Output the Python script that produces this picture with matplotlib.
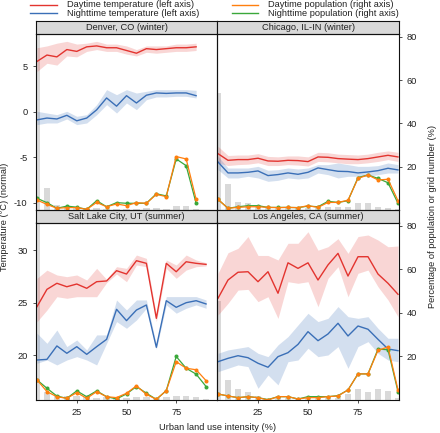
import numpy as np
import matplotlib
matplotlib.use('Agg')
import matplotlib.pyplot as plt
from matplotlib.lines import Line2D

plt.rcParams['font.family'] = ['Liberation Sans', 'DejaVu Sans']
plt.rcParams['axes.unicode_minus'] = False

# ---------------- data ----------------
intensity = [5, 10, 15, 20, 25, 30, 35, 40, 45, 50, 55, 60, 65, 70, 75, 80, 85, 90, 95]

# Denver, CO (winter) : 5..85
den_day = [5.5, 6.2, 6.0, 6.8, 6.6, 7.1, 7.2, 7.0, 7.0, 6.7, 6.4, 6.9, 6.8, 6.9, 7.0, 7.0, 7.1]
den_day_lo = [4.4, 5.3, 5.1, 6.1, 6.0, 6.6, 6.8, 6.6, 6.6, 6.3, 6.1, 6.5, 6.4, 6.5, 6.6, 6.6, 6.7]
den_day_hi = [7.0, 7.2, 7.5, 7.7, 7.4, 7.5, 7.7, 7.4, 7.4, 7.2, 6.8, 7.2, 7.2, 7.2, 7.4, 7.4, 7.5]
den_night = [-0.9, -0.7, -0.8, -0.4, -1.0, -0.7, 0.2, 1.5, 0.6, 1.75, 0.95, 1.8, 2.05, 2.0, 2.05, 2.05, 1.75]
den_night_lo = [-1.42, -1.24, -1.24, -0.8, -1.42, -1.24, -0.33, 0.77, -0.15, 0.95, 0.22, 1.31, 1.61, 1.61, 1.68, 1.68, 1.5]
den_night_hi = [0.04, -0.15, -0.33, 0.04, -0.51, -0.33, 0.77, 2.41, 1.86, 2.41, 2.04, 2.23, 2.41, 2.41, 2.41, 2.41, 2.34]
den_pop_day = [4.6, 2.6, 0.8, 1.1, 1.1, 0.3, 3.5, 1.5, 2.8, 2.0, 3.4, 3.1, 7.2, 6.2, 24.7, 23.6, 5.0]
den_pop_night = [5.4, 3.4, 0.8, 1.8, 1.3, 0.3, 4.3, 1.5, 3.4, 3.1, 3.1, 3.1, 7.5, 6.5, 23.6, 20.5, 3.1]
den_grid = [88, 10.3, 2.3, 1.5, 1.2, 0.5, 0.9, 0.5, 0.5, 0.4, 0.5, 0.8, 0.8, 0.6, 1.8, 2.0, 0.3]

# Chicago, IL-IN (winter) : 5..95
chi_day = [-4.6, -5.33, -5.25, -5.25, -5.1, -5.4, -5.43, -5.33, -5.36, -5.47, -4.96, -5.0, -5.14, -5.2, -5.25, -5.14, -4.96, -4.78, -4.96]
chi_day_lo = [-5.6, -5.9, -5.8, -5.75, -5.6, -5.9, -5.9, -5.8, -5.85, -5.95, -5.45, -5.5, -5.6, -5.7, -5.7, -5.6, -5.45, -5.25, -5.45]
chi_day_hi = [-3.8, -4.8, -4.75, -4.75, -4.6, -4.9, -4.95, -4.85, -4.85, -4.95, -4.45, -4.5, -4.65, -4.7, -4.75, -4.65, -4.45, -4.3, -4.45]
chi_night = [-5.51, -6.71, -6.71, -6.64, -6.49, -7.0, -6.89, -6.71, -6.86, -6.64, -6.16, -6.35, -6.53, -6.56, -6.71, -6.6, -6.46, -6.2, -6.38]
chi_night_lo = [-6.35, -7.26, -7.26, -7.08, -7.26, -7.63, -7.52, -7.26, -7.37, -7.26, -6.72, -6.9, -7.26, -7.08, -7.08, -7.08, -6.9, -6.72, -6.72]
chi_night_hi = [-4.89, -6.17, -6.17, -6.17, -5.99, -6.42, -6.35, -6.17, -6.28, -6.17, -5.8, -5.8, -5.62, -5.8, -5.99, -5.99, -5.91, -5.62, -5.8]
chi_pop_day = [4.9, 0.8, 1.2, 1.5, 1.5, 1.2, 1.1, 1.2, 1.1, 2.0, 1.2, 3.5, 3.5, 4.5, 14.6, 16.2, 13.9, 14.2, 4.3]
chi_pop_night = [4.9, 0.8, 1.5, 2.0, 2.0, 1.2, 1.2, 1.2, 1.1, 1.8, 1.5, 4.0, 3.5, 4.3, 15.0, 16.2, 14.6, 12.6, 3.1]
chi_grid = [54, 11.9, 3.9, 3.1, 2.3, 1.5, 1.2, 1.2, 0.8, 0.8, 1.1, 1.2, 1.2, 1.5, 3.4, 3.1, 1.5, 0.8, 0.3]

# Salt Lake City, UT (summer) : 5..90
slc_day = [24.62, 26.27, 26.85, 26.52, 26.78, 26.37, 27.0, 27.07, 28.05, 27.73, 29.0, 28.75, 23.51, 28.75, 27.95, 28.9, 28.75, 28.65]
slc_day_lo = [23.19, 24.3, 25.57, 25.42, 25.57, 25.57, 25.57, 26.91, 27.73, 27.0, 28.59, 28.43, 23.19, 28.27, 27.32, 28.11, 28.43, 28.5]
slc_day_hi = [27.32, 28.1, 27.64, 27.48, 27.64, 27.16, 28.27, 27.22, 28.43, 28.27, 29.54, 29.22, 23.83, 29.07, 28.59, 29.54, 29.07, 28.81]
slc_night = [19.54, 19.6, 20.88, 20.18, 20.81, 20.08, 20.81, 21.51, 24.37, 23.29, 24.3, 24.78, 20.75, 25.19, 24.56, 25.0, 25.19, 24.88]
slc_night_lo = [19.23, 19.54, 19.07, 19.54, 19.86, 19.54, 19.07, 21.13, 23.2, 22.56, 23.35, 24.47, 20.57, 24.79, 24.0, 24.47, 24.79, 24.47]
slc_night_hi = [22.09, 21.13, 22.4, 20.82, 21.45, 20.5, 21.93, 21.93, 25.26, 24.31, 25.26, 25.26, 20.98, 25.58, 25.58, 25.58, 25.58, 25.26]
slc_pop_day = [9.25, 3.85, 1.5, 0.77, 3.4, 0.77, 3.85, 1.5, 1.1, 3.1, 6.5, 2.6, 0.3, 4.3, 17.6, 14.6, 13.9, 8.9]
slc_pop_night = [9.25, 5.4, 1.8, 0.77, 4.2, 1.5, 4.2, 1.5, 0.5, 2.8, 6.2, 3.1, 0.3, 4.3, 20.0, 14.6, 11.9, 6.2]
slc_grid = [86, 3.6, 2.3, 1.8, 1.8, 1.2, 0.9, 1.2, 1.2, 0.9, 1.2, 1.2, 0.8, 1.2, 1.8, 1.8, 1.5, 0.5]

# Los Angeles, CA (summer) : 5..95
la_day = [25.42, 27.16, 27.9, 27.95, 27.0, 27.95, 25.9, 28.8, 28.27, 28.8, 27.16, 28.6, 29.7, 27.54, 29.38, 29.38, 27.73, 26.85, 25.8]
la_day_lo = [23.83, 24.94, 26.2, 26.27, 25.1, 25.57, 23.5, 27.0, 26.85, 27.0, 24.62, 27.32, 28.43, 25.57, 27.8, 28.11, 26.52, 25.26, 23.67]
la_day_hi = [27.8, 29.76, 30.18, 31.3, 29.5, 29.5, 29.07, 30.66, 30.66, 31.76, 30.0, 30.33, 31.1, 29.7, 31.3, 31.45, 30.97, 30.33, 30.4]
la_night = [19.38, 19.7, 19.95, 19.76, 19.23, 18.85, 19.86, 20.24, 21.03, 22.24, 21.38, 22.02, 23.04, 21.83, 22.78, 22.47, 21.51, 20.59, 20.43]
la_night_lo = [18.43, 18.75, 19.07, 18.91, 16.84, 18.11, 17.17, 19.38, 19.54, 20.66, 19.86, 20.02, 20.82, 18.75, 20.82, 21.29, 20.18, 19.54, 19.38]
la_night_hi = [20.18, 20.5, 20.66, 20.82, 20.18, 19.86, 20.98, 21.77, 22.88, 23.99, 23.2, 23.51, 24.63, 23.67, 23.51, 23.67, 22.56, 21.61, 21.61]
la_pop_day = [2.77, 1.85, 1.08, 1.54, 1.08, 0.0, 1.54, 1.54, 0.46, 1.08, 1.08, 1.54, 1.85, 4.62, 12.0, 12.0, 22.8, 24.4, 4.62]
la_pop_night = [2.77, 1.85, 1.08, 1.54, 1.08, 0.2, 1.54, 1.54, 0.46, 1.54, 1.54, 1.54, 2.0, 4.62, 12.0, 12.0, 23.4, 23.1, 3.85]
la_grid = [45.6, 9.25, 4.9, 3.5, 2.0, 0.5, 1.2, 1.0, 0.5, 1.0, 1.0, 1.0, 1.0, 2.6, 4.9, 3.9, 5.1, 4.3, 0.8]

titles = ["Denver, CO (winter)", "Chicago, IL-IN (winter)",
          "Salt Lake City, UT (summer)", "Los Angeles, CA (summer)"]
legend_labels = ["Daytime temperature (left axis)", "Nighttime temperature (left axis)",
                 "Daytime population (right axis)", "Nighttime population (right axis)"]

panels = [
    (den_day, den_day_lo, den_day_hi, den_night, den_night_lo, den_night_hi, den_pop_day, den_pop_night, den_grid),
    (chi_day, chi_day_lo, chi_day_hi, chi_night, chi_night_lo, chi_night_hi, chi_pop_day, chi_pop_night, chi_grid),
    (slc_day, slc_day_lo, slc_day_hi, slc_night, slc_night_lo, slc_night_hi, slc_pop_day, slc_pop_night, slc_grid),
    (la_day, la_day_lo, la_day_hi, la_night, la_night_lo, la_night_hi, la_pop_day, la_pop_night, la_grid),
]

# ---------------- style ----------------
RED = '#e3342f'
BLUE = '#3a6fb7'
ORANGE = '#ff7f0e'
GREEN = '#3aa83a'
GRAY = '#d9d9d9'
FS = 6.7
TXT = '#222222'

W, H = 440, 433
fig = plt.figure(figsize=(W / 100, H / 100), dpi=100)

def fx(px):
    return px / W

def fy(py):
    return 1 - py / H

cols = [(36, 217), (217, 399)]
rows = [(33.5, 210, 21.5), (222.5, 400, 210)]
temp_lims = [(-10.77, 8.56), (15.73, 32.64)]
temp_ticks = [[-10, -5, 0, 5], [20, 25, 30]]
pop_lim = (0, 81.6)
xlim = (4.5, 95.5)

for i, data in enumerate(panels):
    r, c = divmod(i, 2)
    x0, x1 = cols[c]
    ytop, ybot, ystrip = rows[r]
    rect = [fx(x0), fy(ybot), (x1 - x0) / W, (ybot - ytop) / H]
    day, dlo, dhi, night, nlo, nhi, pday, pnight, grid = data
    xs = intensity[:len(day)]

    ax_bar = fig.add_axes(rect)
    ax = fig.add_axes(rect, sharex=ax_bar)
    ax_pop = fig.add_axes(rect, sharex=ax_bar)
    ax_bar.set_zorder(0)
    ax.set_zorder(1)
    ax_pop.set_zorder(2)
    ax.patch.set_visible(False)
    ax_pop.patch.set_visible(False)

    ax_bar.bar(xs, grid, width=3.3, color=GRAY, linewidth=0)
    ax_bar.set_ylim(*pop_lim)
    ax_bar.set_xlim(*xlim)

    ax.fill_between(xs, dlo, dhi, color=RED, alpha=0.2, linewidth=0)
    ax.fill_between(xs, nlo, nhi, color=BLUE, alpha=0.22, linewidth=0)
    ax.plot(xs, day, color=RED, lw=1.0)
    ax.plot(xs, night, color=BLUE, lw=1.0)
    ax.set_ylim(*temp_lims[r])

    ax_pop.plot(xs, pnight, color=GREEN, lw=0.9, marker='o', ms=2.9, mew=0)
    ax_pop.plot(xs, pday, color=ORANGE, lw=0.9, marker='o', ms=2.9, mew=0)
    ax_pop.set_ylim(*pop_lim)
    ax_pop.yaxis.tick_right()

    for a in (ax_bar, ax, ax_pop):
        a.tick_params(axis='both', direction='out', length=2.5, width=0.6,
                      labelsize=FS, colors='#333333', labelcolor=TXT)
        for s in a.spines.values():
            s.set_visible(False)
    for s in ax_pop.spines.values():
        s.set_visible(True)
        s.set_linewidth(0.8)
        s.set_color('#111111')

    ax_bar.tick_params(left=False, labelleft=False, bottom=False, labelbottom=False)
    # temperature axis
    if c == 0:
        ax.set_yticks(temp_ticks[r])
        ax.tick_params(axis='y', pad=3.5)
    else:
        ax.tick_params(left=False, labelleft=False)
    # population axis
    if c == 1:
        ax_pop.set_yticks([20, 40, 60, 80])
        ax_pop.tick_params(axis='y', right=True, labelright=True, left=False, labelleft=False, pad=3)
    else:
        ax_pop.tick_params(axis='y', right=False, labelright=False, left=False, labelleft=False)
    ax.tick_params(axis='x', bottom=False, labelbottom=False)
    if r == 1:
        ax_pop.set_xticks([25, 50, 75])
        ax_pop.tick_params(axis='x', bottom=True, labelbottom=True, pad=3.5)
    else:
        ax_pop.tick_params(axis='x', bottom=False, labelbottom=False)

    # strip
    sax = fig.add_axes([fx(x0), fy(ytop), (x1 - x0) / W, (ytop - ystrip) / H])
    sax.set_facecolor(GRAY)
    sax.set_xticks([])
    sax.set_yticks([])
    for s in sax.spines.values():
        s.set_linewidth(0.8)
        s.set_color('#111111')
    sax.text(0.5, 0.5, titles[i], ha='center', va='center', fontsize=FS, color=TXT,
             transform=sax.transAxes)

# legend (manual)
leg_items = [(RED, 30, 57, 67, 4.6, legend_labels[0]),
             (BLUE, 30, 57, 67, 13.3, legend_labels[1]),
             (ORANGE, 232, 258, 268, 4.6, legend_labels[2]),
             (GREEN, 232, 258, 268, 13.3, legend_labels[3])]
for col, lx0, lx1, tx, ty, lab in leg_items:
    fig.add_artist(Line2D([fx(lx0), fx(lx1)], [fy(ty), fy(ty)], color=col, lw=1.0,
                          transform=fig.transFigure))
    fig.text(fx(tx), fy(ty), lab, ha='left', va='center', fontsize=FS, color=TXT)

fig.text(fx(5), fy(217), "Temperature (°C) (normal)", rotation=90, ha='center', va='center',
         fontsize=FS, color=TXT)
fig.text(fx(432), fy(217), "Percentage of population or grid number (%)", rotation=90,
         ha='center', va='center', fontsize=FS, color=TXT)
fig.text(fx(217.5), fy(428), "Urban land use intensity (%)", ha='center', va='center',
         fontsize=FS, color=TXT)

fig.savefig('out.png', dpi=100)
